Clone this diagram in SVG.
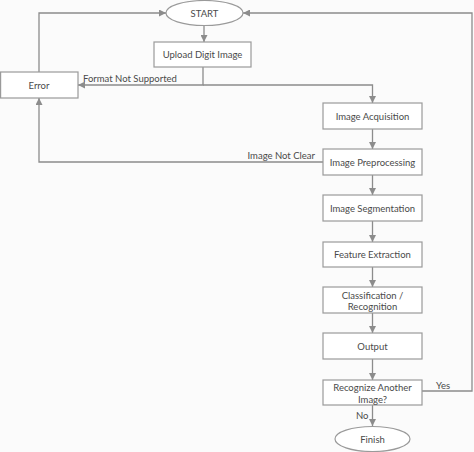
<svg xmlns="http://www.w3.org/2000/svg" width="474" height="452" viewBox="0 0 474 452">
<defs>
<marker id="ah" viewBox="0 0 10 10" refX="10" refY="5" markerWidth="7" markerHeight="7" markerUnits="userSpaceOnUse" orient="auto">
<path d="M0,0 L10,5 L0,10 Z" fill="#8c8c8c"/>
</marker>
</defs>
<style>
.box{fill:#ffffff;stroke:#9a9a9a;stroke-width:1.2}
.t{font-family:Lato,"Open Sans",sans-serif;font-size:9.5px;fill:#4a4a4a;text-anchor:middle}
.l{font-family:Lato,"Open Sans",sans-serif;font-size:9.5px;fill:#4a4a4a}
.c{fill:none;stroke:#8c8c8c;stroke-width:1.3}
</style>
<rect width="474" height="452" fill="#fbfbfb"/>
<g id="connectors">
<path class="c" d="M204,25.5 V42" marker-end="url(#ah)"/>
<path class="c" d="M203,67 V85 H78" marker-end="url(#ah)"/>
<path class="c" d="M203,85 H372.5 V103" marker-end="url(#ah)"/>
<path class="c" d="M39,72 V13 H166" marker-end="url(#ah)"/>
<path class="c" d="M323,162 H39 V98" marker-end="url(#ah)"/>
<path class="c" d="M372.5,129 V149" marker-end="url(#ah)"/>
<path class="c" d="M372.5,175 V195" marker-end="url(#ah)"/>
<path class="c" d="M372.5,221 V242" marker-end="url(#ah)"/>
<path class="c" d="M372.5,267 V287" marker-end="url(#ah)"/>
<path class="c" d="M372.5,313 V333" marker-end="url(#ah)"/>
<path class="c" d="M372.5,359 V380" marker-end="url(#ah)"/>
<path class="c" d="M372.5,405 V426" marker-end="url(#ah)"/>
<path class="c" d="M422,391 H472 V13 H243" marker-end="url(#ah)"/>
<text class="l" x="83" y="82">Format Not Supported</text>
<text class="l" x="315" y="159" text-anchor="end">Image Not Clear</text>
<text class="l" x="436" y="389">Yes</text>
<text class="l" x="356" y="419">No</text>
</g>
<g id="start"><ellipse class="box" cx="204.5" cy="13" rx="38.5" ry="12.5"/><text class="t" x="204.5" y="16.5">START</text></g>
<g id="upload"><rect class="box" x="154" y="42" width="97" height="25"/><text class="t" x="202.5" y="58">Upload Digit Image</text></g>
<g id="error"><rect class="box" x="0.6" y="72" width="77.4" height="26"/><text class="t" x="39" y="88.5">Error</text></g>
<g id="acq"><rect class="box" x="323" y="103" width="99" height="26"/><text class="t" x="372.5" y="119.5">Image Acquisition</text></g>
<g id="pre"><rect class="box" x="323" y="149" width="99" height="26"/><text class="t" x="372.5" y="165.5">Image Preprocessing</text></g>
<g id="seg"><rect class="box" x="323" y="195" width="99" height="26"/><text class="t" x="372.5" y="211.5">Image Segmentation</text></g>
<g id="feat"><rect class="box" x="323" y="242" width="99" height="25"/><text class="t" x="372.5" y="258">Feature Extraction</text></g>
<g id="cls"><rect class="box" x="323" y="287" width="99" height="26"/><text class="t" x="372.5" y="298.5">Classification /</text><text class="t" x="372.5" y="310">Recognition</text></g>
<g id="out"><rect class="box" x="323" y="333" width="99" height="26"/><text class="t" x="372.5" y="349.5">Output</text></g>
<g id="again"><rect class="box" x="323" y="380" width="99" height="25"/><text class="t" x="372.5" y="391">Recognize Another</text><text class="t" x="372.5" y="402.5">Image?</text></g>
<g id="finish"><ellipse class="box" cx="372.5" cy="439" rx="37.5" ry="12.5"/><text class="t" x="372.5" y="442.5">Finish</text></g>
</svg>
